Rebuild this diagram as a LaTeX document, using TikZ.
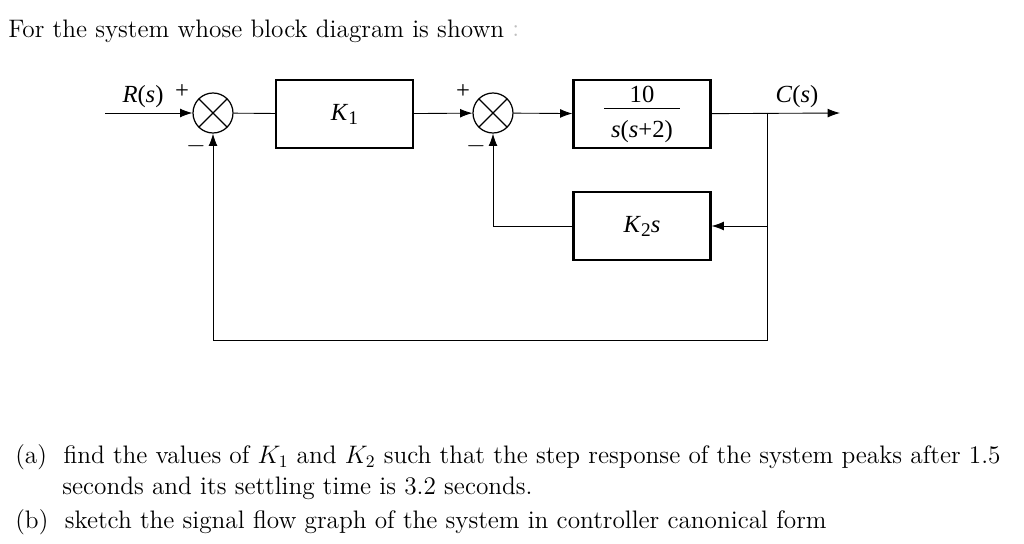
\documentclass[tikz,border=0pt]{standalone}
\usepackage{fontspec}
\newfontfamily\tms{Liberation Serif}
\usetikzlibrary{arrows.meta}
\newcommand{\sbs}[1]{\raisebox{-0.35ex}{\fontsize{11}{12}\selectfont #1}}
\begin{document}
\begin{tikzpicture}[x=0.02cm,y=-0.02cm,
  blk/.style={draw,line width=1.2pt,minimum width=2.74cm,minimum height=1.36cm,inner sep=0pt,font=\tms\fontsize{14}{17}\selectfont},
  sum/.style={draw,circle,line width=0.7pt,minimum size=0.8cm,inner sep=0pt,path picture={
    \draw[line width=0.7pt] (path picture bounding box.south west)++(0.117cm,0.117cm) -- ++(0.566cm,0.566cm);
    \draw[line width=0.7pt] (path picture bounding box.north west)++(0.117cm,-0.117cm) -- ++(0.566cm,-0.566cm);}},
  sig/.style={line width=0.5pt},
  arr/.style={sig,-{Latex[length=7pt,width=5pt]}},
  lab/.style={font=\tms\fontsize{14}{17}\selectfont,inner sep=0pt},
  txt/.style={anchor=west,inner sep=0pt,font=\fontsize{14.4}{17}\selectfont}]
\useasboundingbox (0,0) rectangle (1024,544);
\node[txt] (title) at (8,31) {For the system whose block diagram is shown};
\node[txt,text=black!25] (colon) at (512,31) {:};
\node[sum] (s1) at (213,113) {};
\node[sum] (s2) at (493,113) {};
\node[blk] (k1) at (344.5,114) {\textit{K}\sbs{1}};
\node[blk] (g) at (642,114) {\begin{tabular}{@{\hspace{4pt}}c@{\hspace{4pt}}}10\\[-2pt]\hline\rule{0pt}{2.6ex}\textit{s}(\textit{s}+2)\end{tabular}};
\node[blk] (k2) at (642,226) {\textit{K}\sbs{2}\textit{s}};
\coordinate (in) at (105,113);
\coordinate (out) at (840,113);
\coordinate (br) at (767,113);
\coordinate (br2) at (767,226);
\coordinate (c1) at (767,340);
\coordinate (c2) at (213,340);
\coordinate (c3) at (493,226);
\node[lab] (r) at (143,97) {\textit{R}(\textit{s})};
\node[lab] (c) at (797,97) {\textit{C}(\textit{s})};
\node[lab] (p1) at (182,92) {+};
\node[lab] (m1) at (196,146) {$-$};
\node[lab] (p2) at (463,92) {+};
\node[lab] (m2) at (476,146) {$-$};
\draw[arr] (in) -- (s1);
\draw[sig] (s1) -- (k1);
\draw[arr] (k1) -- (s2);
\draw[arr] (s2) -- (g);
\draw[arr] (g) -- (out);
\draw[arr] (br) -- (br2) -- (k2);
\draw[arr] (k2) -- (c3) -- (s2);
\draw[arr] (br2) -- (c1) -- (c2) -- (s1);
\node[txt] (a) at (15,457) {(a)\ \ find the values of $K_1$ and $K_2$ such that the step response of the system peaks after 1.5};
\node[txt] (a2) at (62,488) {seconds and its settling time is 3.2 seconds.};
\node[txt] (b) at (15,522) {(b)\ \ sketch the signal flow graph of the system in controller canonical form};
\end{tikzpicture}
\end{document}
